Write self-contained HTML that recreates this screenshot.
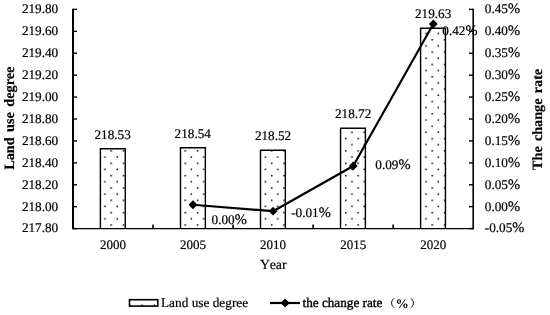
<!DOCTYPE html>
<html><head><meta charset="utf-8"><title>chart</title>
<style>
html,body{margin:0;padding:0;background:#fff;}
svg{display:block;}
text{text-rendering:geometricPrecision;font-family:"Liberation Serif","Noto Serif CJK SC",serif;fill:#000;font-size:13.2px;stroke:#000;stroke-width:0.2px;}
</style></head><body>
<svg width="550" height="315" viewBox="0 0 550 315">
<defs>
<pattern id="dots" x="-0.8" y="150.15" width="12.35" height="12.35" patternUnits="userSpaceOnUse">
<rect x="0" y="0" width="1.5" height="1.5" fill="#000"/>
<rect x="6.175" y="6.175" width="1.5" height="1.5" fill="#000"/>
</pattern>
</defs>
<rect width="550" height="315" fill="#fff"/>

<rect x="100.40" y="148.70" width="24.85" height="79.90" fill="url(#dots)"/>
<path d="M100.40 228.6V148.70H125.25V228.6" fill="none" stroke="#000" stroke-width="1.4"/>
<text x="112.65" y="138.55" text-anchor="middle">218.53</text>
<rect x="180.50" y="147.80" width="24.85" height="80.80" fill="url(#dots)"/>
<path d="M180.50 228.6V147.80H205.35V228.6" fill="none" stroke="#000" stroke-width="1.4"/>
<text x="192.75" y="137.60" text-anchor="middle">218.54</text>
<rect x="260.50" y="150.20" width="24.85" height="78.40" fill="url(#dots)"/>
<path d="M260.50 228.6V150.20H285.35V228.6" fill="none" stroke="#000" stroke-width="1.4"/>
<text x="273.05" y="140.20" text-anchor="middle">218.52</text>
<rect x="340.55" y="128.20" width="24.85" height="100.40" fill="url(#dots)"/>
<path d="M340.55 228.6V128.20H365.40V228.6" fill="none" stroke="#000" stroke-width="1.4"/>
<text x="353.15" y="118.05" text-anchor="middle">218.72</text>
<rect x="420.60" y="28.20" width="24.85" height="200.40" fill="url(#dots)"/>
<path d="M420.60 228.6V28.20H445.45V228.6" fill="none" stroke="#000" stroke-width="1.4"/>
<text x="433.15" y="18.30" text-anchor="middle">219.63</text>
<path d="M73.0 8.65V229.25" stroke="#000" stroke-width="2" fill="none"/>
<path d="M473.2 8.65V229.25" stroke="#000" stroke-width="1.6" fill="none"/>
<path d="M73.0 228.6H473.2" stroke="#000" stroke-width="1.3" fill="none"/>
<path d="M73.0 9.40h4.0" stroke="#000" stroke-width="1.4"/>
<path d="M473.2 9.40h-4.2" stroke="#000" stroke-width="1.4"/>
<text x="58.2" y="13.25" text-anchor="end">219.80</text>
<text x="484.8" y="13.25">0.45<tspan style="font-size:14.5px">%</tspan></text>
<path d="M73.0 31.32h4.0" stroke="#000" stroke-width="1.4"/>
<path d="M473.2 31.32h-4.2" stroke="#000" stroke-width="1.4"/>
<text x="58.2" y="35.17" text-anchor="end">219.60</text>
<text x="484.8" y="35.17">0.40<tspan style="font-size:14.5px">%</tspan></text>
<path d="M73.0 53.24h4.0" stroke="#000" stroke-width="1.4"/>
<path d="M473.2 53.24h-4.2" stroke="#000" stroke-width="1.4"/>
<text x="58.2" y="57.09" text-anchor="end">219.40</text>
<text x="484.8" y="57.09">0.35<tspan style="font-size:14.5px">%</tspan></text>
<path d="M73.0 75.16h4.0" stroke="#000" stroke-width="1.4"/>
<path d="M473.2 75.16h-4.2" stroke="#000" stroke-width="1.4"/>
<text x="58.2" y="79.01" text-anchor="end">219.20</text>
<text x="484.8" y="79.01">0.30<tspan style="font-size:14.5px">%</tspan></text>
<path d="M73.0 97.08h4.0" stroke="#000" stroke-width="1.4"/>
<path d="M473.2 97.08h-4.2" stroke="#000" stroke-width="1.4"/>
<text x="58.2" y="100.93" text-anchor="end">219.00</text>
<text x="484.8" y="100.93">0.25<tspan style="font-size:14.5px">%</tspan></text>
<path d="M73.0 119.00h4.0" stroke="#000" stroke-width="1.4"/>
<path d="M473.2 119.00h-4.2" stroke="#000" stroke-width="1.4"/>
<text x="58.2" y="122.85" text-anchor="end">218.80</text>
<text x="484.8" y="122.85">0.20<tspan style="font-size:14.5px">%</tspan></text>
<path d="M73.0 140.92h4.0" stroke="#000" stroke-width="1.4"/>
<path d="M473.2 140.92h-4.2" stroke="#000" stroke-width="1.4"/>
<text x="58.2" y="144.77" text-anchor="end">218.60</text>
<text x="484.8" y="144.77">0.15<tspan style="font-size:14.5px">%</tspan></text>
<path d="M73.0 162.84h4.0" stroke="#000" stroke-width="1.4"/>
<path d="M473.2 162.84h-4.2" stroke="#000" stroke-width="1.4"/>
<text x="58.2" y="166.69" text-anchor="end">218.40</text>
<text x="484.8" y="166.69">0.10<tspan style="font-size:14.5px">%</tspan></text>
<path d="M73.0 184.76h4.0" stroke="#000" stroke-width="1.4"/>
<path d="M473.2 184.76h-4.2" stroke="#000" stroke-width="1.4"/>
<text x="58.2" y="188.61" text-anchor="end">218.20</text>
<text x="484.8" y="188.61">0.05<tspan style="font-size:14.5px">%</tspan></text>
<path d="M73.0 206.68h4.0" stroke="#000" stroke-width="1.4"/>
<path d="M473.2 206.68h-4.2" stroke="#000" stroke-width="1.4"/>
<text x="58.2" y="210.53" text-anchor="end">218.00</text>
<text x="484.8" y="210.53">0.00<tspan style="font-size:14.5px">%</tspan></text>
<path d="M73.0 228.60h4.0" stroke="#000" stroke-width="1.4"/>
<path d="M473.2 228.60h-4.2" stroke="#000" stroke-width="1.4"/>
<text x="58.2" y="232.45" text-anchor="end">217.80</text>
<text x="484.8" y="232.45">-0.05<tspan style="font-size:14.5px">%</tspan></text>
<path d="M153.04 228.6v-4.1" stroke="#000" stroke-width="1.6"/>
<path d="M233.08 228.6v-4.1" stroke="#000" stroke-width="1.6"/>
<path d="M313.12 228.6v-4.1" stroke="#000" stroke-width="1.6"/>
<path d="M393.16 228.6v-4.1" stroke="#000" stroke-width="1.6"/>
<text x="113.00" y="248.8" text-anchor="middle" style="font-size:13px">2000</text>
<text x="193.05" y="248.8" text-anchor="middle" style="font-size:13px">2005</text>
<text x="273.10" y="248.8" text-anchor="middle" style="font-size:13px">2010</text>
<text x="353.15" y="248.8" text-anchor="middle" style="font-size:13px">2015</text>
<text x="433.20" y="248.8" text-anchor="middle" style="font-size:13px">2020</text>
<text x="273.2" y="269.4" text-anchor="middle" style="font-size:13.8px;font-kerning:none;letter-spacing:-0.1px">Year</text>
<polyline points="193.0,204.75 273.1,211.2 353.2,166.0 433.3,24.0" fill="none" stroke="#000" stroke-width="2.2" stroke-linejoin="round"/>
<path d="M188.6 204.75L193.0 200.35L197.4 204.75L193.0 209.15Z" fill="#000"/>
<path d="M268.70000000000005 211.2L273.1 206.79999999999998L277.5 211.2L273.1 215.6Z" fill="#000"/>
<path d="M348.8 166.0L353.2 161.6L357.59999999999997 166.0L353.2 170.4Z" fill="#000"/>
<path d="M428.90000000000003 24.0L433.3 19.6L437.7 24.0L433.3 28.4Z" fill="#000"/>
<text x="211.6" y="223.85">0.00<tspan style="font-size:14.5px">%</tspan></text>
<text x="291.2" y="216.5">-0.01<tspan style="font-size:14.5px">%</tspan></text>
<text x="375.3" y="168.5">0.09<tspan style="font-size:14.5px">%</tspan></text>
<text x="442.3" y="34.8">0.42<tspan style="font-size:14.5px">%</tspan></text>
<text transform="translate(14,118.2) rotate(-90)" style="font-size:14.3px;word-spacing:1.7px" font-weight="bold" text-anchor="middle">Land use degree</text>
<text transform="translate(542,119.4) rotate(-90)" style="font-size:14.2px;word-spacing:1.7px" font-weight="bold" text-anchor="middle">The change rate</text>
<rect x="129.5" y="299.7" width="28.3" height="6.4" fill="url(#dots)" stroke="#000" stroke-width="1.6"/>
<text x="161.0" y="307.1" style="font-size:13.3px">Land use degree</text>
<path d="M270 303H300" stroke="#000" stroke-width="2.2"/>
<path d="M280.6 303L285.1 298.5L289.6 303L285.1 307.5Z" fill="#000"/>
<text x="302.5" y="307.1" style="font-size:13.2px;stroke-width:0.35px">the change rate</text>
<text transform="translate(383.1,307.2) scale(0.95,0.8)" style="stroke-width:0.1px">（</text>
<text x="395.6" y="307.6" style="font-size:13.3px;stroke:none" font-weight="bold">%</text>
<text transform="translate(409.4,307.2) scale(0.95,0.8)" style="stroke-width:0.1px">）</text>
</svg></body></html>
